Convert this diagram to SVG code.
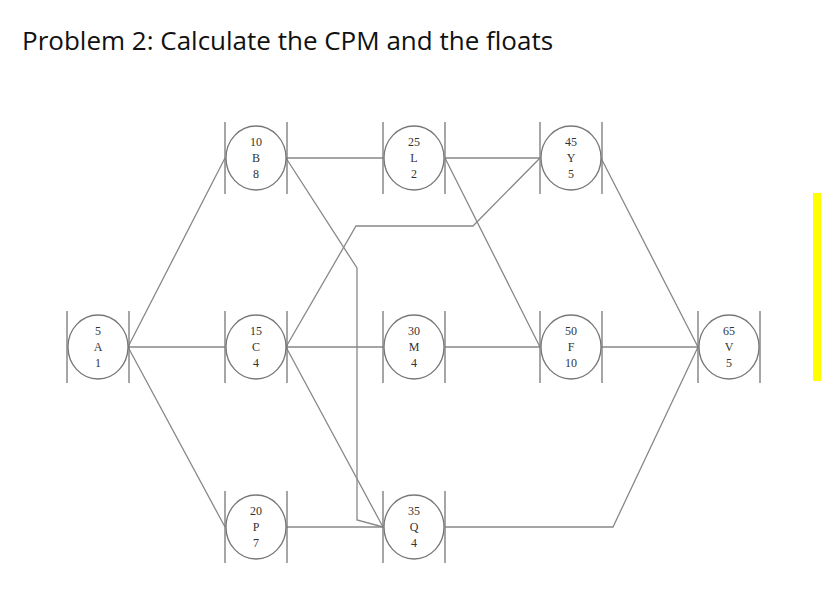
<svg xmlns="http://www.w3.org/2000/svg" width="821" height="597" viewBox="0 0 821 597">
<style>
.e{fill:#fff;stroke:#777;stroke-width:1.3}
.b{stroke:#777;stroke-width:1.3}
.c{fill:none;stroke:#888;stroke-width:1.3}
.t{font-family:"Liberation Serif",serif;font-size:12px;fill:#333;text-anchor:middle}
</style>
<rect width="821" height="597" fill="#fff"/>
<text x="22" y="50" font-family="Open Sans,Liberation Sans,sans-serif" font-size="26" fill="#111">Problem 2: Calculate the CPM and the floats</text>
<rect x="813" y="193" width="8" height="188" fill="#ffff00"/>
<g id="connectors" class="c">
<path d="M128,347L225,158M128,347H225M128,347L225,527"/>
<path d="M286,158H383M286,158L357,268V520L383,527"/>
<path d="M286,347H383M286,347L356,226H473L540,158M286,347L383,527"/>
<path d="M286,527H383"/>
<path d="M445,158H540M445,158L540,347"/>
<path d="M445,347H540M445,527H613L698,347"/>
<path d="M601,158L698,347M601,347H698"/>
</g>
<defs>
<g id="n"><ellipse class="e" cx="0" cy="0" rx="30" ry="32"/><path class="b" d="M-31,-36V36M31,-36V36"/></g>
</defs>
<g id="A"><use href="#n" x="98" y="347"/><text class="t" x="98" y="335">5</text><text class="t" x="98" y="351">A</text><text class="t" x="98" y="367">1</text></g>
<g id="B"><use href="#n" x="256" y="158"/><text class="t" x="256" y="146">10</text><text class="t" x="256" y="162">B</text><text class="t" x="256" y="178">8</text></g>
<g id="C"><use href="#n" x="256" y="347"/><text class="t" x="256" y="335">15</text><text class="t" x="256" y="351">C</text><text class="t" x="256" y="367">4</text></g>
<g id="P"><use href="#n" x="256" y="527"/><text class="t" x="256" y="515">20</text><text class="t" x="256" y="531">P</text><text class="t" x="256" y="547">7</text></g>
<g id="L"><use href="#n" x="414" y="158"/><text class="t" x="414" y="146">25</text><text class="t" x="414" y="162">L</text><text class="t" x="414" y="178">2</text></g>
<g id="M"><use href="#n" x="414" y="347"/><text class="t" x="414" y="335">30</text><text class="t" x="414" y="351">M</text><text class="t" x="414" y="367">4</text></g>
<g id="Q"><use href="#n" x="414" y="527"/><text class="t" x="414" y="515">35</text><text class="t" x="414" y="531">Q</text><text class="t" x="414" y="547">4</text></g>
<g id="Y"><use href="#n" x="571" y="158"/><text class="t" x="571" y="146">45</text><text class="t" x="571" y="162">Y</text><text class="t" x="571" y="178">5</text></g>
<g id="F"><use href="#n" x="571" y="347"/><text class="t" x="571" y="335">50</text><text class="t" x="571" y="351">F</text><text class="t" x="571" y="367">10</text></g>
<g id="V"><use href="#n" x="729" y="347"/><text class="t" x="729" y="335">65</text><text class="t" x="729" y="351">V</text><text class="t" x="729" y="367">5</text></g>
</svg>
